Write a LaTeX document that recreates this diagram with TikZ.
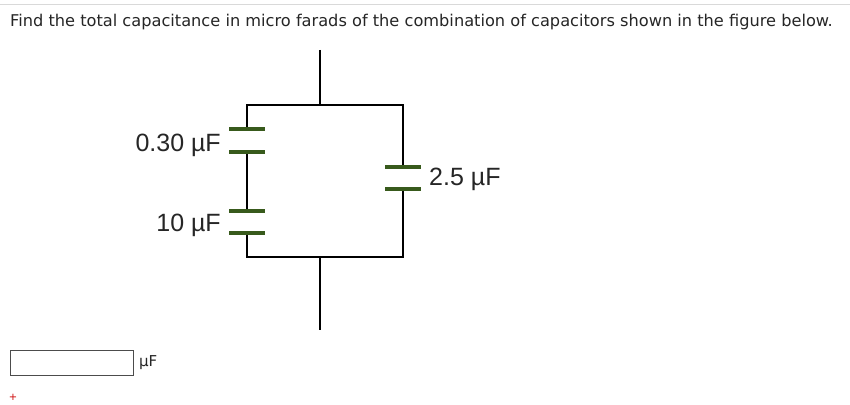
\documentclass[tikz,border=0pt]{standalone}
\usepackage{fontspec}
\setmainfont{DejaVu Sans}
\newfontfamily\arialf{Liberation Sans}
\definecolor{platec}{RGB}{56,90,28}
\begin{document}
\begin{tikzpicture}[x=1pt,y=-1pt,
  wire/.style={line width=1.8pt,black},
  plate/.style={line width=3.6pt,platec},
  lbl/.style={font=\arialf\fontsize{25}{27}\selectfont,text=black!85,inner sep=0pt}]
\useasboundingbox (0,0) rectangle (850,404);
\fill[white] (0,0) rectangle (850,404);
\draw[black!15] (0,4) -- (850,4);
\node[anchor=west,inner sep=0pt,font=\fontsize{16.2}{18}\selectfont,text=black!85] (title) at (10,22) {Find the total capacitance in micro farads of the combination of capacitors shown in the figure below.};
% circuit
\coordinate (tt) at (320,50); \coordinate (tj) at (320,105);
\coordinate (bj) at (320,257); \coordinate (bb) at (320,330);
\coordinate (tl) at (247,105); \coordinate (tr) at (403,105);
\coordinate (bl) at (247,257); \coordinate (br) at (403,257);
\coordinate (a1) at (247,129); \coordinate (a2) at (247,152);
\coordinate (b1) at (247,211); \coordinate (b2) at (247,233);
\coordinate (c1) at (403,167); \coordinate (c2) at (403,189);
\draw[line width=1.1pt] (tt) -- (tj);
\draw[line width=1.1pt] (bj) -- (bb);
\draw[wire] (a1) -- (tl) -- (tr) -- (c1);
\draw[wire] (a2) -- (b1);
\draw[wire] (b2) -- (bl) -- (br) -- (c2);
\foreach \p in {a1,a2,b1,b2,c1,c2}{\draw[plate] ([xshift=-18pt]\p) -- ([xshift=18pt]\p);}
\node[lbl,anchor=east] (l1) at (221,145) {0.30 µF};
\node[lbl,anchor=east] (l2) at (221,225) {10 µF};
\node[lbl,anchor=west] (l3) at (429,179) {2.5 µF};
% answer box
\node[draw=black!70,line width=0.9pt,minimum width=123pt,minimum height=25pt,anchor=north west,inner sep=0pt] (box) at (10,350) {};
\node[anchor=west,inner sep=0pt,font=\fontsize{15}{17}\selectfont,text=black!85] (unit) at (139,363) {µF};
\node[text=red!80!black,inner sep=0pt,font=\fontsize{10}{12}\selectfont] (plus) at (13,397) {+};
\end{tikzpicture}
\end{document}
